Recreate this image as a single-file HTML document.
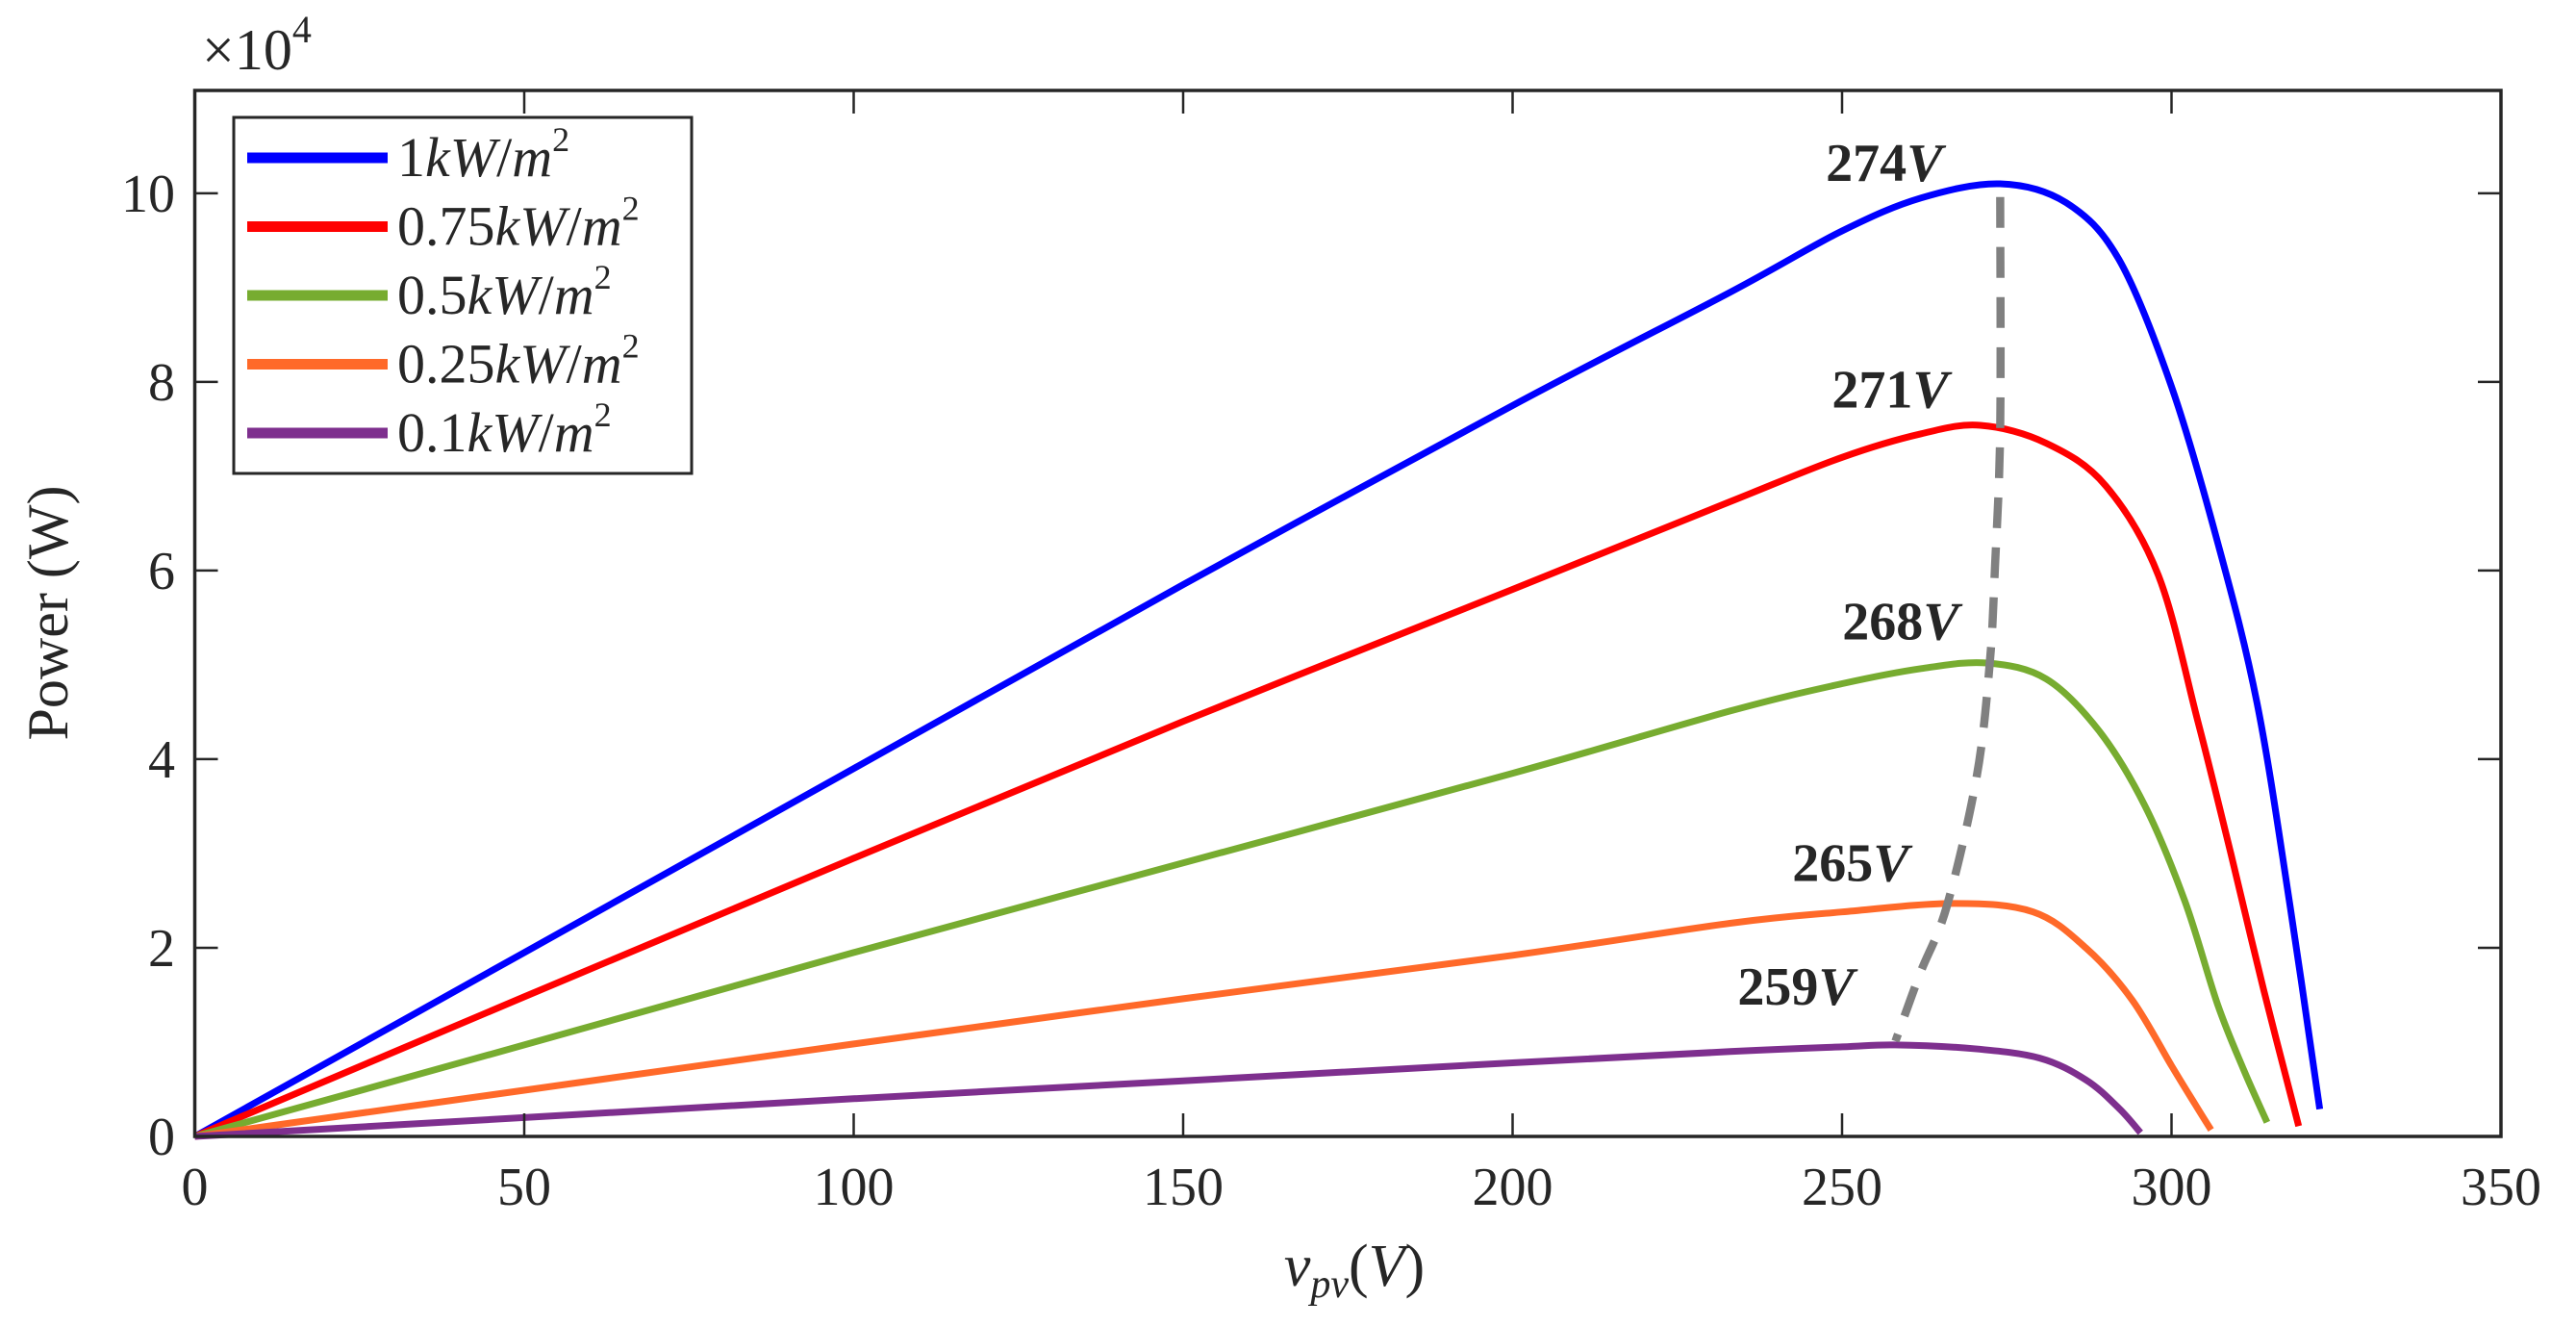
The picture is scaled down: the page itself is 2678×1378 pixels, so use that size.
<!DOCTYPE html>
<html><head><meta charset="utf-8"><style>
html,body{margin:0;padding:0;background:#fff;}
svg{display:block;}
text{font-family:"Liberation Serif",serif;fill:#262626;}
</style></head><body>
<svg id="chart" width="2678" height="1378" viewBox="0 0 2678 1378" xmlns="http://www.w3.org/2000/svg">
<rect width="2678" height="1378" fill="#fff"/>
<g id="series"></g>
<g id="axes"></g>
<g id="labels"></g>
<g id="legend"></g>
</svg>
<script>
const xTicks=[0,50,100,150,200,250,300,350];
const yTicks=[0,2,4,6,8,10];
const blueV=[0,50,100,150,200,233,250,262,274,284,292,300,307,313,318,322.5];
const blueP=[0,1.95,3.9,5.85,7.75,8.95,9.6,9.95,10.1,9.9,9.3,7.95,6.3,4.59,2.44,0.29];
const redV=[0,50,100,150,200,233,250,262,271,281,290,298,304,309,314,319.3];
const redP=[0,1.48,2.95,4.4,5.8,6.73,7.2,7.45,7.54,7.35,6.9,5.95,4.4,3.0,1.55,0.11];
const greenV=[0,50,100,150,200,233,250,262,272,281,289,296,302,307,311,314.5];
const greenP=[0,0.97,1.95,2.9,3.85,4.51,4.8,4.96,5.02,4.85,4.3,3.5,2.5,1.4,0.7,0.15];
const orangeV=[0,50,100,150,200,233,250,267,279,287,294,300,303.5,306];
const orangeP=[0,0.49,0.98,1.46,1.92,2.26,2.38,2.47,2.38,2.0,1.45,0.75,0.35,0.07];
const purpleV=[0,50,100,150,200,233,250,258,270,280,287,292,295.3];
const purpleP=[0,0.2,0.4,0.59,0.78,0.9,0.95,0.97,0.93,0.83,0.6,0.3,0.04];
const mppV=[274,274,273.2,272.4,270.4,265.9,261.8,258.1];
const mppP=[9.96,7.5,6.02,5.0,3.8,2.44,1.72,1.01];
const mppLabels=["274V","271V","268V","265V","259V"];
const mppLabelV=[256.4,257.3,258.9,251.3,243];
const mppLabelP=[10.13,7.73,5.27,2.71,1.40];
const legendLabels=["1","0.75","0.5","0.25","0.1"];

const NS="http://www.w3.org/2000/svg";
const L=202.5,R=2600,T=94,B=1181,XMAX=350,YMAX=11.09;
function sx(v){return L+(v/XMAX)*(R-L);}
function sy(p){return B-(p/YMAX)*(B-T);}
function mk(tag,attrs,parent){const e=document.createElementNS(NS,tag);for(const k in attrs)e.setAttribute(k,attrs[k]);parent.appendChild(e);return e;}
function smooth(V,P){
  const pts=V.map((v,i)=>[sx(v),sy(P[i])]);
  let d="M"+pts[0][0].toFixed(1)+","+pts[0][1].toFixed(1);
  for(let i=0;i<pts.length-1;i++){
    const p0=pts[Math.max(0,i-1)],p1=pts[i],p2=pts[i+1],p3=pts[Math.min(pts.length-1,i+2)];
    const c1=[p1[0]+(p2[0]-p0[0])/6,p1[1]+(p2[1]-p0[1])/6];
    const c2=[p2[0]-(p3[0]-p1[0])/6,p2[1]-(p3[1]-p1[1])/6];
    d+=" C"+c1.map(n=>n.toFixed(1)).join(",")+" "+c2.map(n=>n.toFixed(1)).join(",")+" "+p2.map(n=>n.toFixed(1)).join(",");
  }
  return d;
}
const series=document.getElementById('series');
const defs=[["blue",blueV,blueP,"#0000ff"],["red",redV,redP,"#ff0000"],["green",greenV,greenP,"#77ac30"],["orange",orangeV,orangeP,"#ff6929"],["purple",purpleV,purpleP,"#7e2f8e"]];
defs.forEach(s=>{
  const p=mk('path',{d:smooth(s[1],s[2]),fill:"none",stroke:s[3],"stroke-width":7,"stroke-linejoin":"round"},series);
  
  
});
const mpp=mk('path',{d:smooth(mppV,mppP),fill:"none",stroke:"#808080","stroke-width":8.5,"stroke-dasharray":"32 20"},series);



const axes=document.getElementById('axes');
const box=mk('rect',{x:L,y:T,width:R-L,height:B-T,fill:"none",stroke:"#262626","stroke-width":3.5},axes);


xTicks.forEach(v=>{
  const x=sx(v);
  mk('line',{x1:x,y1:B,x2:x,y2:B-24,stroke:"#262626","stroke-width":2.5},axes);
  mk('line',{x1:x,y1:T,x2:x,y2:T+24,stroke:"#262626","stroke-width":2.5},axes);
  const t=mk('text',{x:x,y:1252,"font-size":56,"text-anchor":"middle"},axes);
  t.textContent=v;
  
  
});
yTicks.forEach(p=>{
  const y=sy(p);
  mk('line',{x1:L,y1:y,x2:L+24,y2:y,stroke:"#262626","stroke-width":2.5},axes);
  mk('line',{x1:R,y1:y,x2:R-24,y2:y,stroke:"#262626","stroke-width":2.5},axes);
  const t=mk('text',{x:182,y:y+19,"font-size":56,"text-anchor":"end"},axes);
  t.textContent=p;
  
  
});
const labels=document.getElementById('labels');
mppLabels.forEach((s,i)=>{
  const t=mk('text',{x:sx(mppLabelV[i]),y:sy(mppLabelP[i]),"font-size":56,"text-anchor":"middle","font-weight":"bold",fill:"#000"},labels);
  t.innerHTML=s.slice(0,3)+'<tspan font-style="italic">V</tspan>';
  
  
});
const legend=document.getElementById('legend');
const lb=mk('rect',{x:243,y:122,width:476,height:370,fill:"#fff",stroke:"#262626","stroke-width":3},legend);


legendLabels.forEach((s,i)=>{
  const y=164+i*71.5;
  const ln=mk('line',{x1:257,y1:y,x2:403,y2:y,stroke:defs[i][3],"stroke-width":11},legend);
  
  
  const t=mk('text',{x:413,y:y+19,"font-size":58,fill:"#000"},legend);
  t.innerHTML=s+'<tspan font-style="italic">kW</tspan>/<tspan font-style="italic">m</tspan><tspan font-size="36" dy="-26">2</tspan>';
  
  
});
</script>
<svg style="position:absolute;left:0;top:0" width="2678" height="1378">
<text x="210" y="72" font-size="60" style="font-family:'Liberation Serif',serif;fill:#262626">×10<tspan font-size="40" dy="-28">4</tspan></text>
<text x="1408" y="1336" font-size="62" text-anchor="middle" style="font-family:'Liberation Serif',serif;fill:#262626"><tspan font-style="italic">v</tspan><tspan font-style="italic" font-size="42" dy="12">pv</tspan><tspan dy="-12">(</tspan><tspan font-style="italic">V</tspan>)</text>
<text transform="translate(70,637) rotate(-90)" font-size="60" text-anchor="middle" style="font-family:'Liberation Serif',serif;fill:#262626">Power (W)</text>
</svg>
</body></html>
